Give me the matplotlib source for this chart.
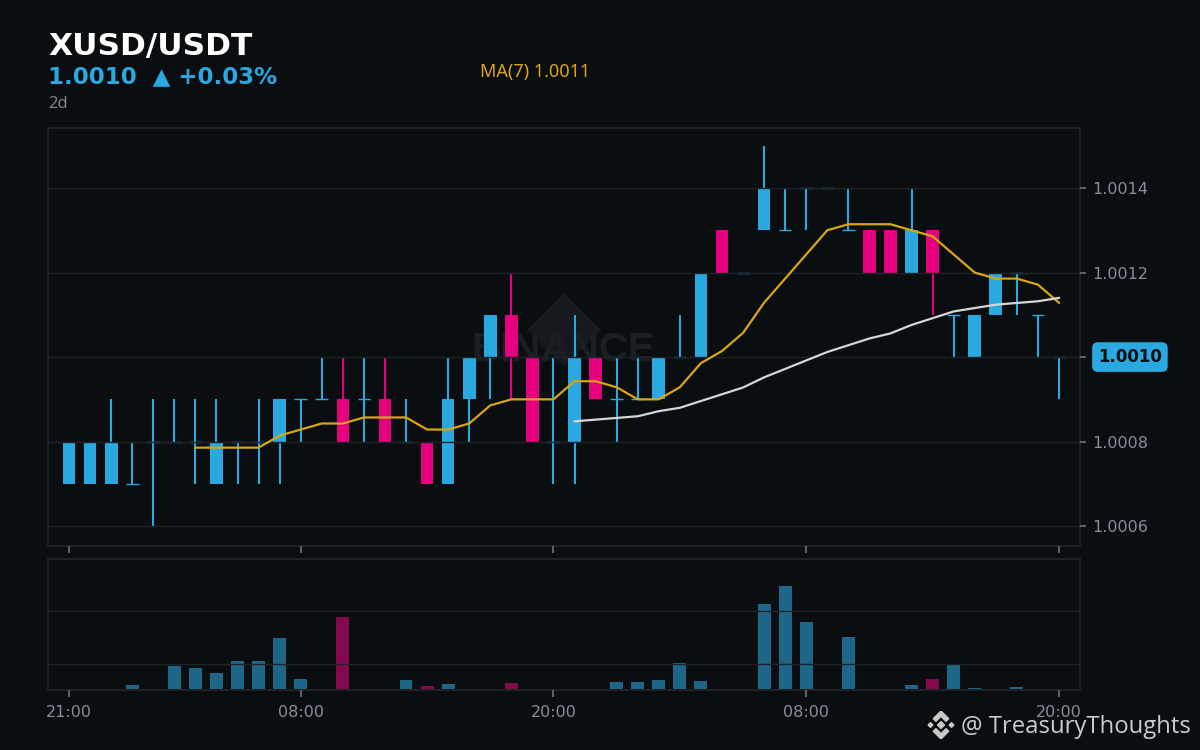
import matplotlib
matplotlib.use("Agg")
import matplotlib.pyplot as plt
import matplotlib.transforms as mtransforms
from matplotlib.patches import Polygon
import pandas as pd

# hourly candles, XUSD/USDT, 2 days
start_time = "2024-01-01 21:00"
opens = [1.0007, 1.0007, 1.0007, 1.0007, 1.0008, 1.0008, 1.0008, 1.0007,
         1.0008, 1.0008, 1.0008, 1.0009, 1.0009, 1.0009, 1.0009, 1.0009,
         1.0008, 1.0008, 1.0007, 1.0009, 1.0010, 1.0011, 1.0010, 1.0008,
         1.0008, 1.0010, 1.0009, 1.0009, 1.0009, 1.0010, 1.0010, 1.0013,
         1.0012, 1.0013, 1.0013, 1.0014, 1.0014, 1.0013, 1.0013, 1.0013,
         1.0012, 1.0013, 1.0011, 1.0010, 1.0011, 1.0012, 1.0011, 1.0010]
highs = [1.0008, 1.0008, 1.0009, 1.0008, 1.0009, 1.0009, 1.0009, 1.0009,
         1.0008, 1.0009, 1.0009, 1.0009, 1.0010, 1.0010, 1.0010, 1.0010,
         1.0009, 1.0008, 1.0010, 1.0010, 1.0011, 1.0012, 1.0010, 1.0010,
         1.0011, 1.0010, 1.0010, 1.0010, 1.0010, 1.0011, 1.0012, 1.0013,
         1.0012, 1.0015, 1.0014, 1.0014, 1.0014, 1.0014, 1.0013, 1.0013,
         1.0014, 1.0013, 1.0011, 1.0011, 1.0012, 1.0012, 1.0011, 1.0010]
lows = [1.0007, 1.0007, 1.0007, 1.0007, 1.0006, 1.0008, 1.0007, 1.0007,
        1.0007, 1.0007, 1.0007, 1.0008, 1.0009, 1.0008, 1.0008, 1.0008,
        1.0008, 1.0007, 1.0007, 1.0008, 1.0009, 1.0009, 1.0008, 1.0007,
        1.0007, 1.0009, 1.0008, 1.0009, 1.0009, 1.0010, 1.0010, 1.0012,
        1.0012, 1.0013, 1.0013, 1.0013, 1.0014, 1.0013, 1.0012, 1.0012,
        1.0012, 1.0011, 1.0010, 1.0010, 1.0011, 1.0011, 1.0010, 1.0009]
closes = [1.0008, 1.0008, 1.0008, 1.0007, 1.0008, 1.0008, 1.0008, 1.0008,
          1.0008, 1.0008, 1.0009, 1.0009, 1.0009, 1.0008, 1.0009, 1.0008,
          1.0008, 1.0007, 1.0009, 1.0010, 1.0011, 1.0010, 1.0008, 1.0008,
          1.0010, 1.0009, 1.0009, 1.0009, 1.0010, 1.0010, 1.0012, 1.0012,
          1.0012, 1.0014, 1.0013, 1.0014, 1.0014, 1.0013, 1.0012, 1.0012,
          1.0013, 1.0012, 1.0011, 1.0011, 1.0012, 1.0012, 1.0011, 1.0010]
# volume in thousands
volumes = [0, 0, 0.5, 9.5, 0, 46, 42, 32, 55, 55, 99, 21, 0.5, 139, 2.5, 0,
           19, 8, 11, 2.5, 0, 13, 0.4, 0, 0.5, 2.5, 15, 15, 19, 52, 17, 0,
           0, 164, 199, 130, 0, 101, 0, 2.5, 10, 21, 48, 4, 0.5, 6, 2, 0]
price_ticks = [1.0006, 1.0008, 1.0010, 1.0012, 1.0014]
volume_grid = [50, 150]

BG = "#0b0e11"
UP = "#29a9e0"
DOWN = "#e5007f"
GRID = "#1f2328"
TXT = "#848e9c"

plt.rcParams['font.family'] = ['DejaVu Sans']

df = pd.DataFrame({"open": opens, "high": highs, "low": lows,
                   "close": closes, "vol": volumes})
df["time"] = pd.date_range(start_time, periods=len(df), freq="h")
df["ma7"] = df["close"].rolling(7).mean()
df["ma25"] = df["close"].rolling(25).mean()
x = df.index.values
up = df["close"] >= df["open"]
colors = [UP if u else DOWN for u in up]

fig = plt.figure(figsize=(12, 7.5), dpi=100, facecolor=BG)
ax = fig.add_axes([48 / 1200, 1 - 546 / 750, 1032 / 1200, 418 / 750])
axv = fig.add_axes([48 / 1200, 1 - 690 / 750, 1032 / 1200, 131 / 750], sharex=ax)

for a in (ax, axv):
    a.set_facecolor(BG)
    for s in a.spines.values():
        s.set_color("#1e2226")
        s.set_linewidth(1.5)
    a.set_axisbelow(False)
    a.grid(axis="y", color=GRID, linewidth=1.0)
    a.grid(axis="x", visible=False)

# watermark behind the candles
def px(xp, yp):
    return (xp / 1200, 1 - yp / 750)

diamond = Polygon([px(564, 293), px(601, 330), px(564, 367), px(527, 330)],
                  closed=True, transform=fig.transFigure, facecolor="#16191d",
                  edgecolor="none", zorder=0.5)
ax.add_patch(diamond)
ax.text(563 / 1200, 1 - 350 / 750, "BINANCE", transform=fig.transFigure,
        ha="center", va="center", fontsize=29, fontweight="bold",
        family="Liberation Sans", color="#1b1e22", zorder=0.6)

# candles
body_w = 0.6
ax.vlines(x, df["low"], df["high"], colors=colors, linewidth=1.5, zorder=2)
body_low = df[["open", "close"]].min(axis=1)
body_h = (df["close"] - df["open"]).abs()
ax.bar(x, body_h, bottom=body_low, width=body_w, color=colors, zorder=2)
flat = body_h < 1e-9
ax.hlines(df["close"][flat], x[flat] - body_w / 2, x[flat] + body_w / 2,
          colors=[c for c, f in zip(colors, flat) if f], linewidth=1.0, zorder=2)

ax.plot(x, df["ma7"], color="#d9a514", linewidth=1.6, zorder=3)
ax.plot(x, df["ma25"], color="#d6d6d6", linewidth=1.6, zorder=3)

ax.set_xlim(-1, len(df))
ax.set_ylim(1.000553, 1.001542)
ax.yaxis.tick_right()
ax.set_yticks(price_ticks)
ax.set_yticklabels(["" if abs(p - closes[-1]) < 1e-9 else f"{p:.4f}" for p in price_ticks])
ax.tick_params(axis="y", colors=TXT, labelsize=11.5, length=4, width=1.5, pad=5)
ax.tick_params(axis="y", color="#5b626b")

# ticks at 21:00 start and each 08:00 / 20:00
tick_idx = [i for i, t in enumerate(df["time"]) if i == 0 or t.hour in (8, 20)]
tick_lab = [df["time"][i].strftime("%H:%M") for i in tick_idx]
ax.set_xticks(tick_idx)
ax.tick_params(axis="x", labelbottom=False, color="#5b626b", length=5, width=1.5)

last_tr = mtransforms.blended_transform_factory(ax.transAxes, ax.transData)
ax.text(1.0 + 18 / 1032, closes[-1], f"{closes[-1]:.4f}", transform=last_tr,
        ha="left", va="center", fontsize=12, fontweight="bold", color=BG,
        bbox=dict(boxstyle="round,pad=0.35", facecolor=UP, edgecolor="none"))

# volume
vcolors = ["#1d6688" if u else "#85084f" for u in up]
axv.bar(x, df["vol"], width=0.61, color=vcolors, zorder=2)
axv.set_ylim(0, 250)
axv.set_yticks(volume_grid)
axv.tick_params(axis="y", left=False, labelleft=False)
axv.set_xticks(tick_idx)
axv.set_xticklabels(tick_lab)
axv.tick_params(axis="x", colors=TXT, labelsize=11.5, length=5, width=1.5, pad=6)
axv.tick_params(axis="x", color="#5b626b")

# header
fig.text(48 / 1200, 1 - 55 / 750, "XUSD/USDT", color="white", fontsize=22.5,
         fontweight="bold", va="baseline")
fig.text(48 / 1200, 1 - 83 / 750, "1.0010  \u25B2 +0.03%", color=UP, fontsize=16.5,
         fontweight="bold", va="baseline")
fig.text(48 / 1200, 1 - 108 / 750, "2d", color="#7d828a", fontsize=12,
         family="Noto Sans", va="baseline")
fig.text(480 / 1200, 1 - 77 / 750, f"MA(7) {df['ma7'].iloc[-1]:.4f}", color="#e0a40e",
         fontsize=13, family="Noto Sans", va="baseline")

# bottom-right credit with logo
axi = fig.add_axes([927 / 1200, 1 - 739 / 750, 28 / 1200, 28 / 750])
axi.set_xlim(-1, 1)
axi.set_ylim(-1, 1)
axi.axis("off")
LOGO = "#c9c9c9"
axi.add_patch(Polygon([(0, 0.25), (0.25, 0), (0, -0.25), (-0.25, 0)], color=LOGO))
axi.add_patch(Polygon([(-0.75, 0.17), (-0.58, 0), (-0.75, -0.17), (-0.92, 0)], color=LOGO))
axi.add_patch(Polygon([(0.75, 0.17), (0.92, 0), (0.75, -0.17), (0.58, 0)], color=LOGO))
axi.add_patch(Polygon([(0, 1), (0.55, 0.45), (0.36, 0.26), (0, 0.62),
                       (-0.36, 0.26), (-0.55, 0.45)], color=LOGO))
axi.add_patch(Polygon([(0, -1), (0.55, -0.45), (0.36, -0.26), (0, -0.62),
                       (-0.36, -0.26), (-0.55, -0.45)], color=LOGO))
fig.text(961 / 1200, 1 - 733 / 750, "@ TreasuryThoughts", color="#cccccc",
         fontsize=17.2, family="Open Sans", va="baseline")

fig.savefig("out.png", dpi=100, facecolor=BG)
